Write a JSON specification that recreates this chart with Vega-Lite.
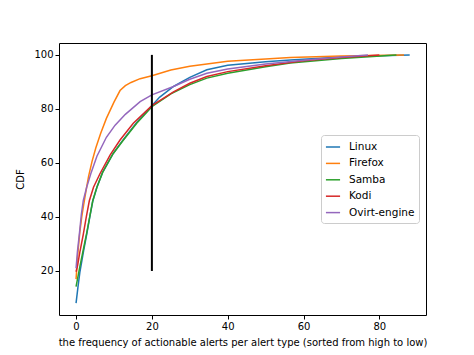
{
  "$schema": "https://vega.github.io/schema/vega-lite/v6.json",
  "width": 367,
  "height": 272,
  "autosize": {"type": "none"},
  "padding": {"left": 59, "top": 43, "right": 48, "bottom": 40},
  "background": "white",
  "config": {
    "font": "DejaVu Sans",
    "view": {"stroke": "black", "strokeWidth": 1},
    "axis": {
      "domain": false,
      "grid": false,
      "tickColor": "black",
      "tickSize": 4,
      "labelColor": "black",
      "labelFontSize": 10,
      "titleFontSize": 10,
      "titleFontWeight": "normal",
      "titleColor": "black",
      "labelFont": "DejaVu Sans",
      "titleFont": "DejaVu Sans"
    }
  },
  "layer": [
    {
      "data": {
        "values": [
          {"s": "Linux", "x": 0, "y": 8.1},
          {"s": "Linux", "x": 0.5, "y": 14},
          {"s": "Linux", "x": 1, "y": 19.5},
          {"s": "Linux", "x": 2, "y": 27.5},
          {"s": "Linux", "x": 2.8, "y": 33.5},
          {"s": "Linux", "x": 3.6, "y": 39.8},
          {"s": "Linux", "x": 4.4, "y": 45.8},
          {"s": "Linux", "x": 5.5, "y": 51},
          {"s": "Linux", "x": 7, "y": 56.5},
          {"s": "Linux", "x": 9.8, "y": 63.5},
          {"s": "Linux", "x": 12.5, "y": 68.7},
          {"s": "Linux", "x": 16, "y": 75},
          {"s": "Linux", "x": 20, "y": 81.2},
          {"s": "Linux", "x": 22, "y": 84.3},
          {"s": "Linux", "x": 25.7, "y": 88.3},
          {"s": "Linux", "x": 30, "y": 91.7},
          {"s": "Linux", "x": 34.5, "y": 94.5},
          {"s": "Linux", "x": 40, "y": 96.2},
          {"s": "Linux", "x": 50, "y": 97.5},
          {"s": "Linux", "x": 56.5, "y": 98.1},
          {"s": "Linux", "x": 70, "y": 99.2},
          {"s": "Linux", "x": 80, "y": 99.7},
          {"s": "Linux", "x": 88, "y": 100},
          {"s": "Firefox", "x": 0, "y": 17},
          {"s": "Firefox", "x": 0.5, "y": 27},
          {"s": "Firefox", "x": 1, "y": 34.5},
          {"s": "Firefox", "x": 1.5, "y": 40},
          {"s": "Firefox", "x": 2, "y": 44.5},
          {"s": "Firefox", "x": 2.6, "y": 49.5},
          {"s": "Firefox", "x": 3.3, "y": 55},
          {"s": "Firefox", "x": 4.2, "y": 60.5},
          {"s": "Firefox", "x": 5.2, "y": 65.5},
          {"s": "Firefox", "x": 6.5, "y": 71},
          {"s": "Firefox", "x": 8, "y": 76.5},
          {"s": "Firefox", "x": 10, "y": 82.5},
          {"s": "Firefox", "x": 11.6, "y": 86.8},
          {"s": "Firefox", "x": 13, "y": 88.6},
          {"s": "Firefox", "x": 14.5, "y": 89.8},
          {"s": "Firefox", "x": 16.9, "y": 91.2},
          {"s": "Firefox", "x": 20, "y": 92.3},
          {"s": "Firefox", "x": 25, "y": 94.4},
          {"s": "Firefox", "x": 30, "y": 95.8},
          {"s": "Firefox", "x": 40, "y": 97.6},
          {"s": "Firefox", "x": 50, "y": 98.5},
          {"s": "Firefox", "x": 56.5, "y": 99},
          {"s": "Firefox", "x": 70, "y": 99.6},
          {"s": "Firefox", "x": 86.5, "y": 100},
          {"s": "Samba", "x": 0, "y": 14.2},
          {"s": "Samba", "x": 1, "y": 21.6},
          {"s": "Samba", "x": 2, "y": 28.5},
          {"s": "Samba", "x": 2.8, "y": 34},
          {"s": "Samba", "x": 3.6, "y": 40},
          {"s": "Samba", "x": 4.4, "y": 46},
          {"s": "Samba", "x": 5.5, "y": 51},
          {"s": "Samba", "x": 7, "y": 56.5},
          {"s": "Samba", "x": 9.8, "y": 63.5},
          {"s": "Samba", "x": 12.5, "y": 68.5},
          {"s": "Samba", "x": 16, "y": 74.7},
          {"s": "Samba", "x": 20, "y": 80.8},
          {"s": "Samba", "x": 25, "y": 85.6},
          {"s": "Samba", "x": 30, "y": 89},
          {"s": "Samba", "x": 34.5, "y": 91.4},
          {"s": "Samba", "x": 40, "y": 93.2},
          {"s": "Samba", "x": 50, "y": 95.6},
          {"s": "Samba", "x": 56.5, "y": 97},
          {"s": "Samba", "x": 70, "y": 98.7},
          {"s": "Samba", "x": 84.5, "y": 100},
          {"s": "Kodi", "x": 0, "y": 19.7},
          {"s": "Kodi", "x": 0.4, "y": 22},
          {"s": "Kodi", "x": 1, "y": 27},
          {"s": "Kodi", "x": 1.9, "y": 33.5},
          {"s": "Kodi", "x": 2.7, "y": 40},
          {"s": "Kodi", "x": 3.5, "y": 46},
          {"s": "Kodi", "x": 4.6, "y": 51},
          {"s": "Kodi", "x": 6.3, "y": 56},
          {"s": "Kodi", "x": 9, "y": 63},
          {"s": "Kodi", "x": 11.6, "y": 68.5},
          {"s": "Kodi", "x": 15.1, "y": 74.7},
          {"s": "Kodi", "x": 20, "y": 81.2},
          {"s": "Kodi", "x": 25.7, "y": 86.3},
          {"s": "Kodi", "x": 30, "y": 89.5},
          {"s": "Kodi", "x": 34.5, "y": 92},
          {"s": "Kodi", "x": 40, "y": 93.8},
          {"s": "Kodi", "x": 50, "y": 96},
          {"s": "Kodi", "x": 60, "y": 97.8},
          {"s": "Kodi", "x": 70, "y": 99},
          {"s": "Kodi", "x": 80, "y": 100},
          {"s": "Ovirt-engine", "x": 0, "y": 21},
          {"s": "Ovirt-engine", "x": 0.35, "y": 27},
          {"s": "Ovirt-engine", "x": 0.9, "y": 34},
          {"s": "Ovirt-engine", "x": 1.4, "y": 41},
          {"s": "Ovirt-engine", "x": 1.9, "y": 46},
          {"s": "Ovirt-engine", "x": 2.8, "y": 51},
          {"s": "Ovirt-engine", "x": 4, "y": 56.5},
          {"s": "Ovirt-engine", "x": 5.5, "y": 62.5},
          {"s": "Ovirt-engine", "x": 8, "y": 69.5},
          {"s": "Ovirt-engine", "x": 10.3, "y": 74},
          {"s": "Ovirt-engine", "x": 13, "y": 78},
          {"s": "Ovirt-engine", "x": 16.9, "y": 82.7},
          {"s": "Ovirt-engine", "x": 20, "y": 85.2},
          {"s": "Ovirt-engine", "x": 25.7, "y": 88.3},
          {"s": "Ovirt-engine", "x": 30, "y": 91},
          {"s": "Ovirt-engine", "x": 34.5, "y": 93.2},
          {"s": "Ovirt-engine", "x": 40, "y": 94.8},
          {"s": "Ovirt-engine", "x": 50, "y": 96.6},
          {"s": "Ovirt-engine", "x": 60, "y": 98},
          {"s": "Ovirt-engine", "x": 70, "y": 99.2},
          {"s": "Ovirt-engine", "x": 77, "y": 100}
        ]
      },
      "mark": {"type": "line", "strokeWidth": 1.5, "clip": true},
      "encoding": {
        "x": {
          "field": "x", "type": "quantitative",
          "scale": {"domain": [-4.5, 92.3], "nice": false, "zero": false},
          "axis": {"values": [0, 20, 40, 60, 80], "title": "the frequency of actionable alerts per alert type (sorted from high to low)", "titlePadding": 6}
        },
        "y": {
          "field": "y", "type": "quantitative",
          "scale": {"domain": [3.7, 104.4], "nice": false, "zero": false},
          "axis": {"values": [20, 40, 60, 80, 100], "title": "CDF", "titlePadding": 8}
        },
        "color": {
          "field": "s", "type": "nominal",
          "scale": {
            "domain": ["Linux", "Firefox", "Samba", "Kodi", "Ovirt-engine"],
            "range": ["#1f77b4", "#ff7f0e", "#2ca02c", "#d62728", "#9467bd"]
          },
          "legend": {
            "title": null,
            "orient": "none",
            "legendX": 262,
            "legendY": 92,
            "symbolType": "stroke",
            "symbolStrokeWidth": 1.5,
            "symbolSize": 200,
            "labelFontSize": 10.5,
            "labelColor": "black",
            "labelOffset": 8,
            "rowPadding": 2.4,
            "padding": 4,
            "strokeColor": "#cccccc",
            "fillColor": "white",
            "cornerRadius": 3
          }
        },
        "order": {"field": "x", "type": "quantitative"}
      }
    },
    {
      "data": {"values": [{"x": 20, "y": 20, "y2": 100}]},
      "mark": {"type": "rule", "color": "black", "strokeWidth": 2},
      "encoding": {
        "x": {"field": "x", "type": "quantitative"},
        "y": {"field": "y", "type": "quantitative"},
        "y2": {"field": "y2"}
      }
    }
  ]
}
